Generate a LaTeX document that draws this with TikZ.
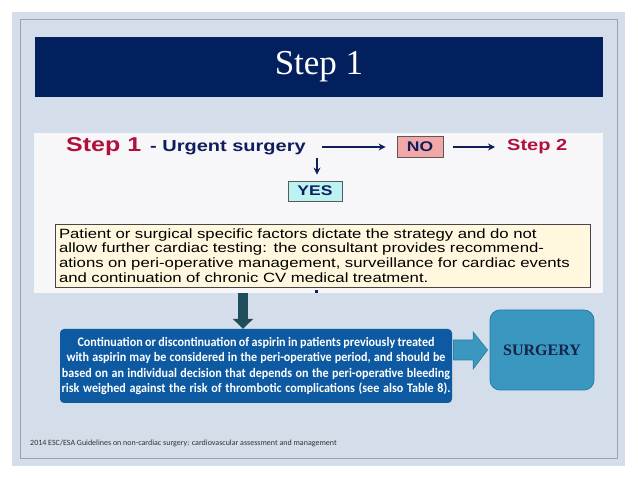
\documentclass[tikz,border=0pt]{standalone}
\usepackage{fontspec}
\setmainfont{Liberation Serif}
\newfontfamily\arialf[FakeStretch=1.25]{Liberation Sans}
\newfontfamily\calib[FakeStretch=0.93]{Carlito}
\newfontfamily\calibfoot{Carlito}
\usetikzlibrary{arrows.meta,calc}
\definecolor{outerbg}{HTML}{D3DEEA}
\definecolor{frameline}{HTML}{98A4B2}
\definecolor{titlenavy}{HTML}{03205E}
\definecolor{panelbg}{HTML}{F7F7F9}
\definecolor{crimson}{HTML}{B2103C}
\definecolor{darknavy}{HTML}{0F1F5C}
\definecolor{nopink}{HTML}{F2A8A8}
\definecolor{yescyan}{HTML}{BDF2F2}
\definecolor{cream}{HTML}{FFF8DE}
\definecolor{tealarrow}{HTML}{1F4D5C}
\definecolor{royal}{HTML}{0E5AA2}
\definecolor{skyblue}{HTML}{3A97C0}
\definecolor{skyline}{HTML}{2B7DA3}
\definecolor{surgtext}{HTML}{14244A}
\newcommand{\spreadline}[2]{\hbox to #1{\spaceskip=3pt plus 20pt minus 1.5pt\relax #2}}
\tikzset{
  smallbox/.style={draw=gray!70!black, line width=0.8pt, inner sep=0pt, font=\arialf\bfseries\fontsize{14}{16}\selectfont, text=darknavy},
  navyarrow/.style={draw=darknavy, line width=1.6pt, -{Stealth[length=7pt,width=7pt]}},
}
\begin{document}
\begin{tikzpicture}[x=1pt,y=-1pt]
\useasboundingbox (0,0) rectangle (638,478);
\fill[white] (0,0) rectangle (638,478);
\fill[outerbg] (12,12) rectangle (625,466);
\draw[frameline, line width=1pt] (20,20) rectangle (617,459);
% title
\node[fill=titlenavy, minimum width=568pt, minimum height=60pt, inner sep=0pt, text=white,
      font=\fontsize{35}{38}\selectfont] (title) at (319,67) {Step 1};
% pasted panel
\node[fill=panelbg, minimum width=569pt, minimum height=160pt, inner sep=0pt] (panel) at (318.5,213) {};
\node[anchor=west, inner sep=0pt, font=\arialf\bfseries\fontsize{20}{22}\selectfont] (s1) at (66,147)
  {\textcolor{crimson}{Step 1}\,\textcolor{darknavy}{\fontsize{16}{18}\selectfont{} - Urgent surgery}};
\node[smallbox, fill=nopink, minimum width=46pt, minimum height=21pt] (no) at (420,147) {NO};
\node[anchor=west, inner sep=0pt, font=\arialf\bfseries\fontsize{16}{18}\selectfont, text=crimson] (s2) at (507,147) {Step 2};
\coordinate (a1s) at (322,147);
\coordinate (a2s) at (453,147);
\coordinate (dns) at (317,158);
\draw[navyarrow, shorten >=11pt] (a1s) -- (no.west);
\draw[navyarrow, shorten >=12pt] (a2s) -- (s2.west);
\node[smallbox, fill=yescyan, minimum width=54pt, minimum height=20pt] (yes) at (315,191) {YES};
\draw[navyarrow, shorten >=6pt] (dns) -- (yes.north -| dns);
\node[draw=gray!55!black, line width=0.8pt, fill=cream, minimum width=535pt, minimum height=63pt,
      inner sep=0pt, text width=527pt, align=left, font=\arialf\fontsize{13.4}{14.6}\selectfont, text=black]
  (cond) at (322.5,255.5)
  {Patient or surgical specific factors dictate the strategy and do not\\
   allow further cardiac testing: the consultant provides recommend-\\
   ations on peri-operative management, surveillance for cardiac events\\
   and continuation of chronic CV medical treatment.};
\fill[darknavy] (315,290) rectangle (318,293.5);
% lower part
\node[fill=royal, rounded corners=4pt, minimum width=392pt, minimum height=74pt, inner sep=0pt,
      text=white, align=center, font=\calib\bfseries\fontsize{13}{15.4}\selectfont] (blue) at (256,366)
  {\spreadline{357pt}{Continuation or discontinuation of aspirin in patients previously treated}\\
   \spreadline{379pt}{with aspirin may be considered in the peri-operative period, and should be}\\
   \spreadline{388pt}{based on an individual decision that depends on the peri-operative bleeding}\\
   \spreadline{389pt}{risk weighed against the risk of thrombotic complications (see also Table 8).}};
\draw[tealarrow, line width=10pt, -{Triangle[length=10pt,width=20pt]}] (panel.south -| 243,0) -- (blue.north -| 243,0);
\node[fill=skyblue, draw=skyline, line width=0.8pt, rounded corners=10pt, minimum width=104pt, minimum height=80pt,
      inner sep=0pt, text=surgtext, font=\bfseries\fontsize{16}{18}\selectfont] (surg) at (542,350) {SURGERY};
\filldraw[fill=skyblue, draw=skyline, line width=0.6pt]
  ($(blue.east |- surg.west)+(1,-10)$) -- ++(20,0) -- ++(0,-8) -- ($(surg.west)+(-2,0)$)
  -- ($(blue.east |- surg.west)+(21,19)$) -- ++(0,-9) -- ++(-20,0) -- cycle;
\node[anchor=west, inner sep=0pt, font=\calibfoot\fontsize{8}{10}\selectfont, text=black!80] (foot) at (30,443)
  {2014 ESC/ESA Guidelines on non-cardiac surgery: cardiovascular assessment and management};
\end{tikzpicture}
\end{document}
